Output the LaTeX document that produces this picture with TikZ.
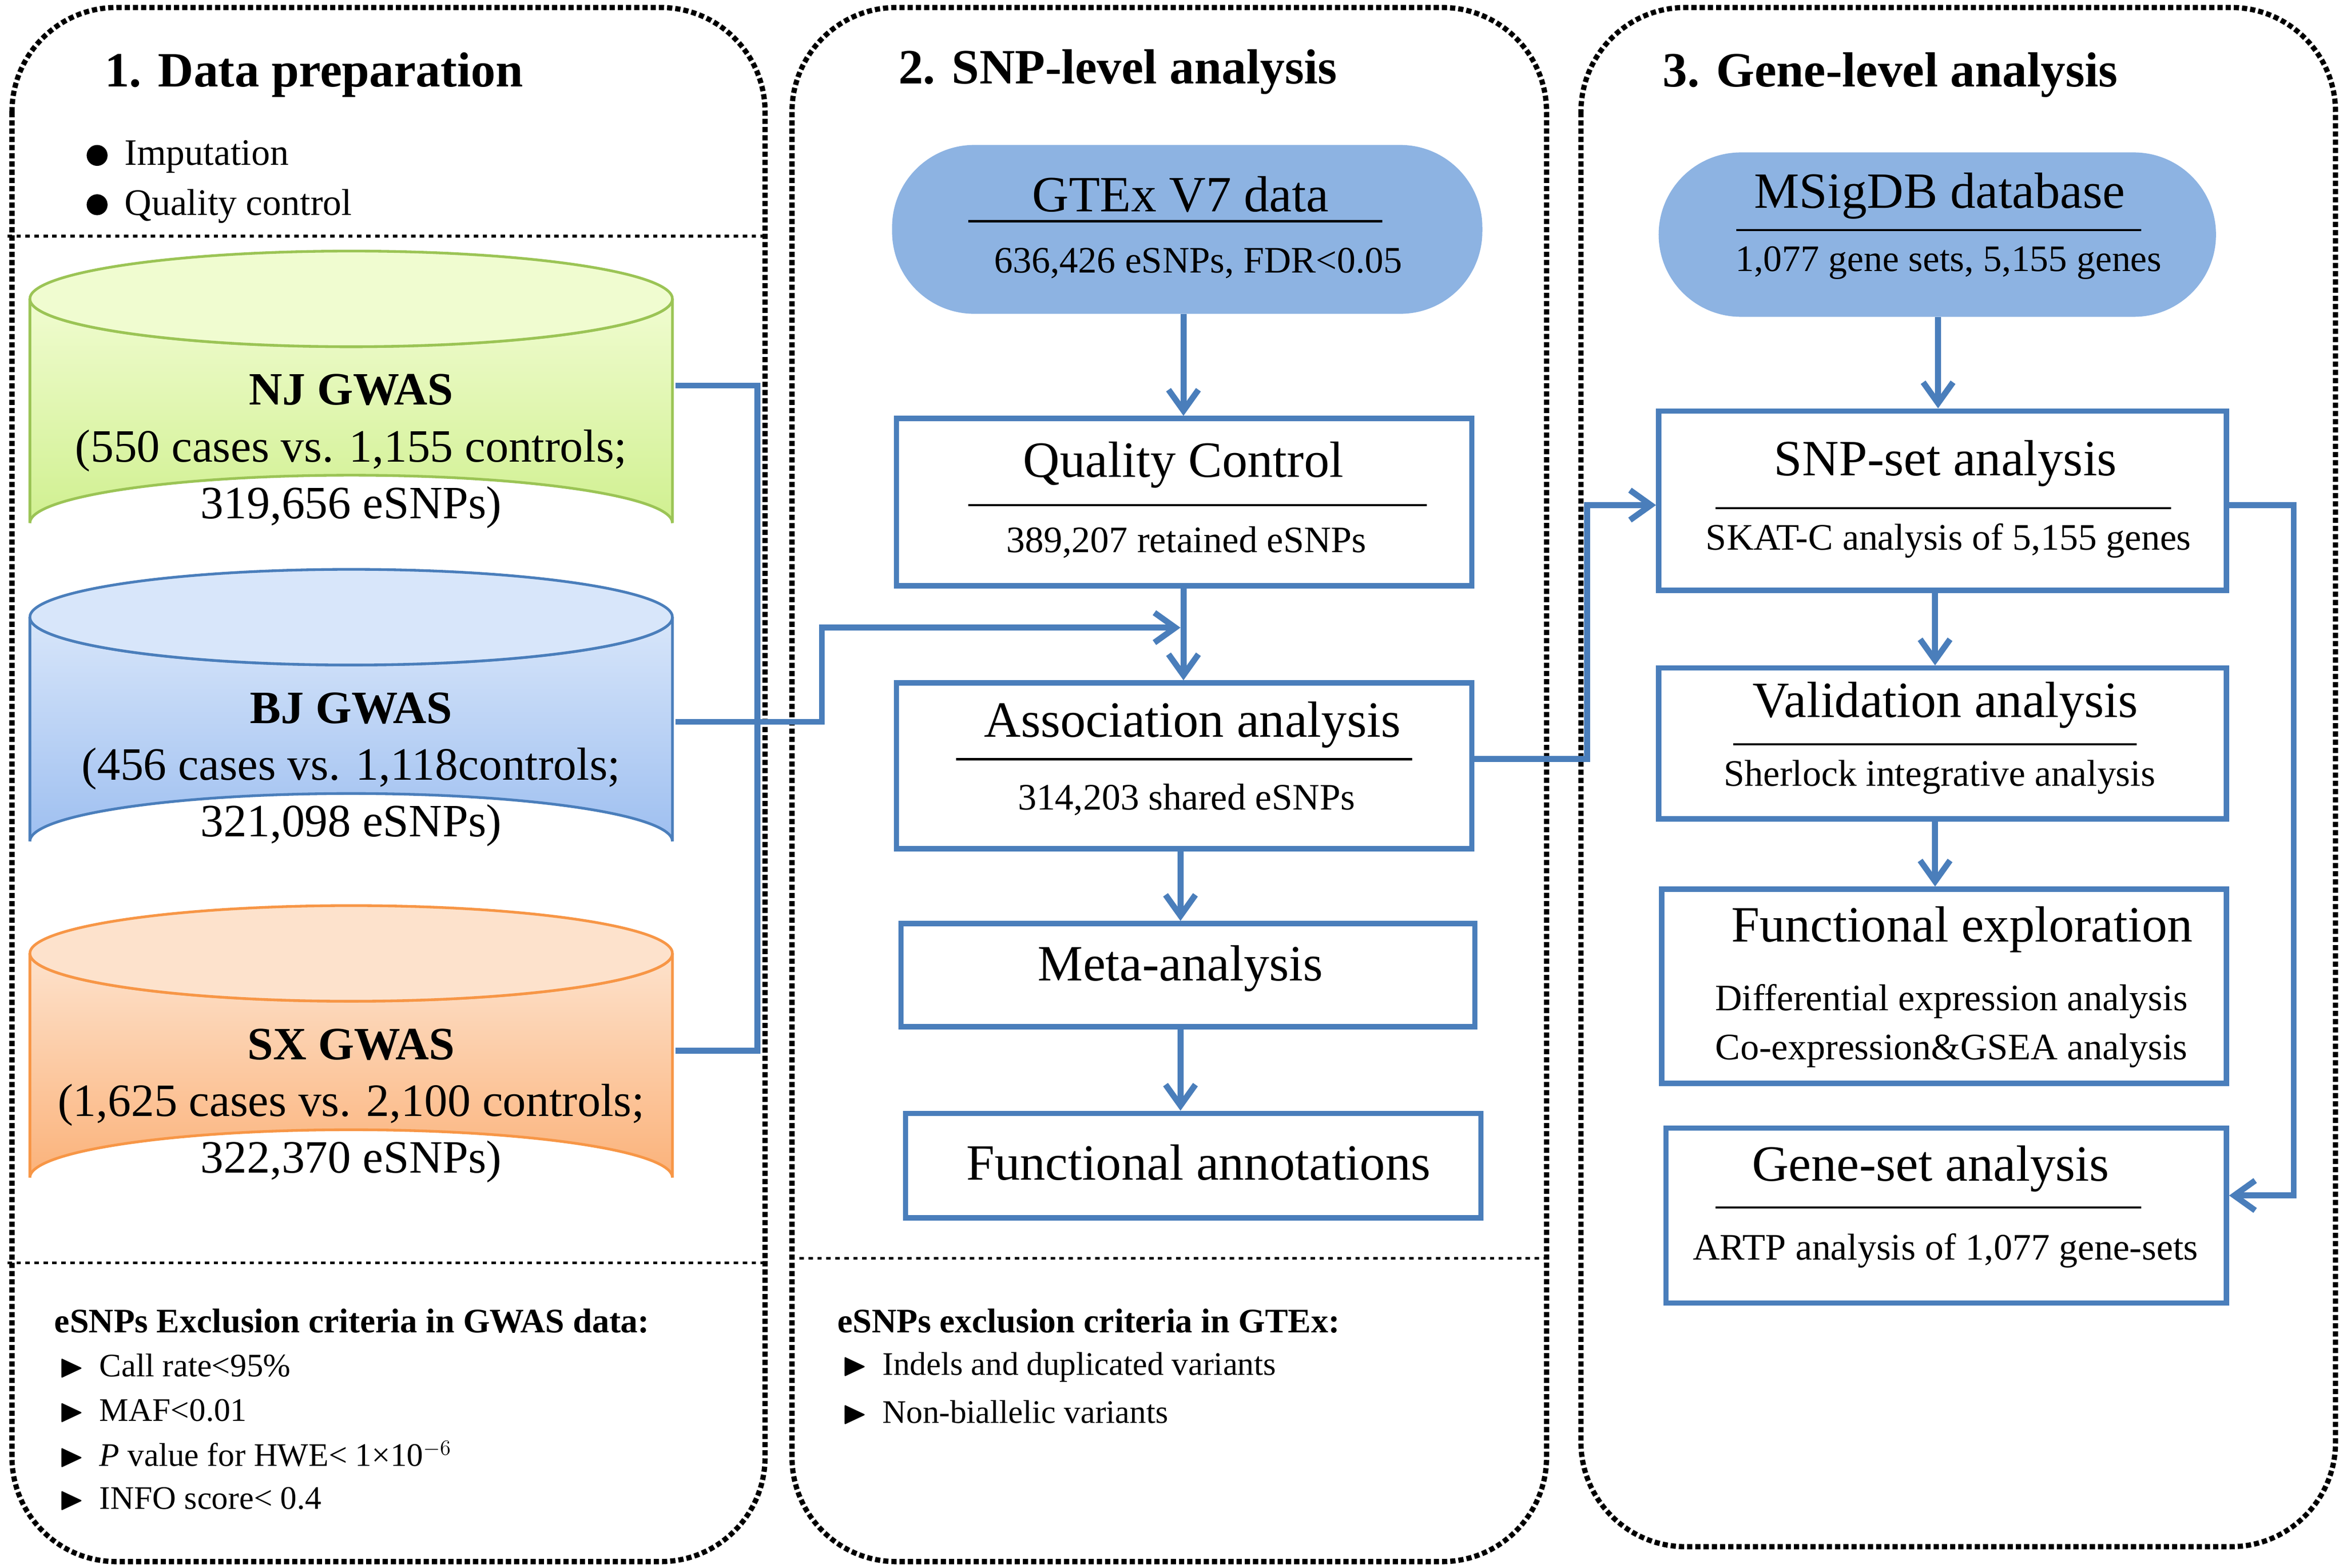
\documentclass[tikz,border=0pt]{standalone}
\usepackage{amssymb}
\usepackage{fontspec}
\setmainfont{Liberation Serif}
\usetikzlibrary{arrows.meta,shapes.geometric}
\definecolor{bl}{HTML}{4A7EBB}
\definecolor{capf}{HTML}{8DB3E2}
\begin{document}
\begin{tikzpicture}[x=1pt,y=-1pt,
 panel/.style={line width=3.5pt,dotted,rounded corners=70pt},
 sep/.style={line width=1.8pt,dashed},
 box/.style={draw=bl,line width=3.5pt,fill=white,inner sep=0pt},
 pill/.style={fill=capf,rounded corners=55pt,inner sep=0pt},
 con/.style={draw=bl,line width=4pt},
 arr/.style={con,-{Straight Barb[length=14pt,width=20pt,line width=4pt]}},
 ttl/.style={font=\fontsize{33}{36}\selectfont\bfseries},
 big/.style={font=\fontsize{34}{38}\selectfont},
 mid/.style={font=\fontsize{25}{28}\selectfont},
 cyl/.style={font=\fontsize{31}{38}\selectfont,align=center},
 sm/.style={font=\fontsize{22}{26}\selectfont,anchor=west}]
\useasboundingbox (0,0) rectangle (1568,1049);
% panels
\draw[panel] (8,5) rectangle (512,1045);
\draw[panel] (530,5) rectangle (1035,1045);
\draw[panel] (1058,5) rectangle (1563,1035);
\draw[sep] (5,158) -- (512,158);
\draw[sep] (5,845) -- (512,845);
\draw[sep] (535,842) -- (1035,842);
\node[ttl] (t1) at (210,50) {1. Data preparation};
\node[ttl] (t2) at (748,48) {2. SNP-level analysis};
\node[ttl] (t3) at (1265,50) {3. Gene-level analysis};
\fill (65,104) circle (7); \node[sm,font=\fontsize{25}{28}\selectfont] (b1) at (80,105) {Imputation};
\fill (65,137) circle (7); \node[sm,font=\fontsize{25}{28}\selectfont] (b2) at (80,138) {Quality control};
% cylinders
\foreach \nm/\tp/\fa/\fb/\dc/\xa/\xb/\xc in {
  nj/200/F0FCD0/D0F090/9BC455/NJ GWAS/(550 cases vs. 1{,}155 controls;/319{,}656 eSNPs),
  bj/413/D8E6FA/9EBFF0/4A7EBB/BJ GWAS/(456 cases vs. 1{,}118controls;/321{,}098 eSNPs),
  sx/638/FDE2CC/FBB27A/F79646/SX GWAS/(1{,}625 cases vs. 2{,}100 controls;/322{,}370 eSNPs)}{
  \definecolor{ca}{HTML}{\fa}\definecolor{cb}{HTML}{\fb}\definecolor{cd}{HTML}{\dc}
  \path[top color=ca,bottom color=cb,draw=cd,line width=1.8pt]
    (20,\tp) -- (20,\tp+150) arc[start angle=180,end angle=360,x radius=215,y radius=32] -- (450,\tp) arc[start angle=0,end angle=180,x radius=215,y radius=32] -- cycle;
  \draw[draw=cd,fill=ca,line width=1.8pt] (235,\tp) ellipse[x radius=215,y radius=32];
  \node[cyl] (\nm) at (235,\tp+102) {\textbf{\xa}\\\xb\\\xc};
}
\coordinate (nj r) at (452,258);\coordinate (bj r) at (452,483);\coordinate (sx r) at (452,703);
\coordinate (j1) at (507,258);\coordinate (j2) at (507,483);\coordinate (j3) at (507,703);
\draw[con] (nj r) -- (j1) -- (j3) -- (sx r);
\draw[con] (bj r) -- (j2);
% panel 2
\node[pill,minimum width=395pt,minimum height=113pt] (gtex) at (794.5,153.5) {};
\node[big] (gt) at (790,130) {GTEx V7 data};
\draw[line width=1.5pt] (648,148) -- (925,148);
\node[mid] at (802,176) {636,426 eSNPs, FDR<0.05};
\node[box,minimum width=385pt,minimum height=112pt] (qc) at (792.5,336) {};
\node[big] at (792,311) {Quality Control};
\draw[line width=1.5pt] (648,338) -- (955,338);
\node[mid] at (794,363) {389,207 retained eSNPs};
\node[box,minimum width=385pt,minimum height=111pt] (as) at (792.5,512.5) {};
\node[big] at (798,485) {Association analysis};
\draw[line width=1.5pt] (640,508) -- (945,508);
\node[mid] at (794,535) {314,203 shared eSNPs};
\node[box,minimum width=384pt,minimum height=69pt] (meta) at (795,652.5) {};
\node[big] at (790,648) {Meta-analysis};
\node[box,minimum width=385pt,minimum height=70pt] (fa) at (798.5,780) {};
\node[big] at (802,778) {Functional annotations};
\draw[arr] (gtex.south -| 792,0) -- (qc.north -| 792,0);
\draw[arr] (qc.south -| 792,0) -- (as.north -| 792,0);
\draw[arr] (as.south -| 790,0) -- (meta.north -| 790,0);
\draw[arr] (meta.south -| 790,0) -- (fa.north -| 790,0);
\coordinate (k1) at (550,483);\coordinate (k2) at (550,420);\coordinate (k3) at (790,420);
\draw[arr] (j2) -- (k1) -- (k2) -- (k3);
% panel 3
\node[pill,minimum width=373pt,minimum height=110pt] (msig) at (1296.5,157) {};
\node[big] at (1298,131) {MSigDB database};
\draw[line width=1.5pt] (1162,154) -- (1433,154);
\node[mid] at (1304,176) {1,077 gene sets, 5,155 genes};
\node[box,minimum width=380pt,minimum height=120pt] (snp) at (1300,335) {};
\node[big] at (1302,310) {SNP-set analysis};
\draw[line width=1.5pt] (1148,340) -- (1453,340);
\node[mid] at (1304,362) {SKAT-C analysis of 5,155 genes};
\node[box,minimum width=380pt,minimum height=101pt] (val) at (1300,497.5) {};
\node[big] at (1302,472) {Validation analysis};
\draw[line width=1.5pt] (1160,498) -- (1430,498);
\node[mid] at (1298,520) {Sherlock integrative analysis};
\node[box,minimum width=378pt,minimum height=130pt] (fe) at (1301,660) {};
\node[big] at (1313,622) {Functional exploration};
\node[mid] at (1306,670) {Differential expression analysis};
\node[mid] at (1306,703) {Co-expression\&GSEA analysis};
\node[box,minimum width=375pt,minimum height=117pt] (gs) at (1302.5,813.5) {};
\node[big] at (1292,782) {Gene-set analysis};
\draw[line width=1.5pt] (1148,808) -- (1433,808);
\node[mid] at (1302,837) {ARTP analysis of 1,077 gene-sets};
\draw[arr] (msig.south -| 1297,0) -- (snp.north -| 1297,0);
\draw[arr] (snp.south -| 1295,0) -- (val.north -| 1295,0);
\draw[arr] (val.south -| 1295,0) -- (fe.north -| 1295,0);
\coordinate (m1) at (1062,508);\coordinate (m2) at (1062,338);
\draw[arr] (as.east |- 0,508) -- (m1) -- (m2) -- (snp.west |- 0,338);
\coordinate (n1) at (1535,338);\coordinate (n2) at (1535,800);
\draw[arr] (snp.east |- 0,338) -- (n1) -- (n2) -- (gs.east |- 0,800);
% exclusion criteria
\node[sm,font=\fontsize{23}{26}\selectfont\bfseries] (e1) at (33,884) {eSNPs Exclusion criteria in GWAS data:};
\node[sm] at (36,914) {$\blacktriangleright$\hspace{10pt}Call rate<95\%};
\node[sm] at (36,944) {$\blacktriangleright$\hspace{10pt}MAF<0.01};
\node[sm] at (36,973) {$\blacktriangleright$\hspace{10pt}\textit{P} value for HWE< 1×10$^{-6}$};
\node[sm] at (36,1003) {$\blacktriangleright$\hspace{10pt}INFO score< 0.4};
\node[sm,font=\fontsize{23}{26}\selectfont\bfseries] (e2) at (557,884) {eSNPs exclusion criteria in GTEx:};
\node[sm] at (560,915) {$\blacktriangleright$\hspace{10pt}Indels and duplicated variants};
\node[sm] at (560,945) {$\blacktriangleright$\hspace{10pt}Non-biallelic variants};
\end{tikzpicture}
\end{document}
